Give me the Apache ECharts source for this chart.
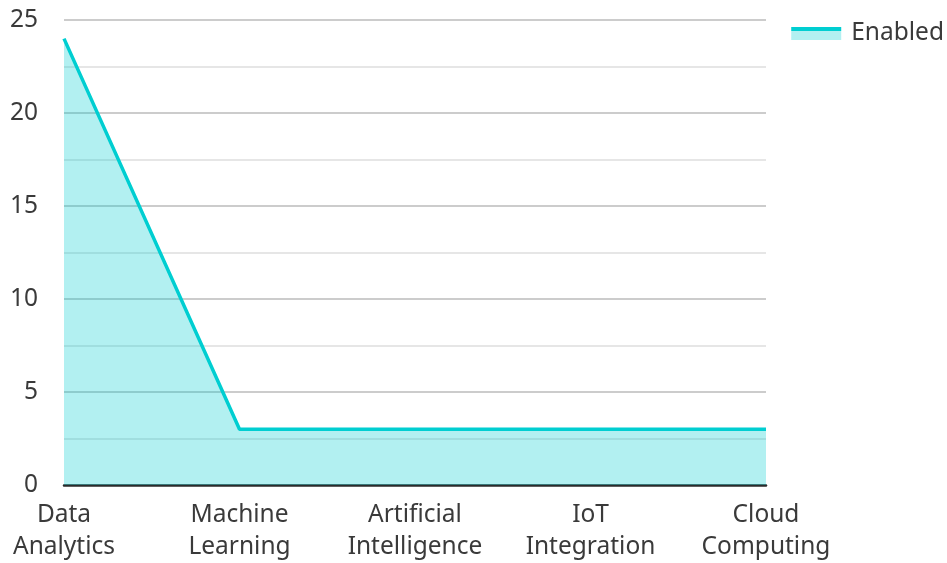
<!DOCTYPE html>
<html>
<head>
<meta charset="utf-8">
<style>
  html, body { margin: 0; padding: 0; background: #fff; }
  #chart { width: 947px; height: 563px; }
</style>
<script src="https://cdn.jsdelivr.net/npm/echarts@6/dist/echarts.min.js"></script>
</head>
<body>
<div id="chart"></div>
<script>
// Categories along the x axis and the "Enabled" counts for each
const categories = ['Data\nAnalytics', 'Machine\nLearning', 'Artificial\nIntelligence', 'IoT\nIntegration', 'Cloud\nComputing'];
const enabledValues = [24, 3, 3, 3, 3];
const seriesName = 'Enabled';

const lineColor = '#00CED1';
const areaColor = 'rgba(0, 206, 209, 0.3)';
const textColor = '#3a3a3a';
const fontFamily = '"Noto Sans", "Open Sans", sans-serif';
const fontSize = 24.5;

const chart = echarts.init(document.getElementById('chart'), null, { renderer: 'canvas' });

chart.setOption({
  animation: false,
  textStyle: { fontFamily: fontFamily },
  grid: { left: 64, right: 181, top: 20, bottom: 76, containLabel: false },
  legend: {
    right: 3,
    top: 21,
    padding: 0,
    icon: 'rect',
    itemWidth: 50,
    itemHeight: 13,
    textStyle: { fontSize: fontSize, color: textColor, fontFamily: fontFamily, padding: [0, 0, 22, 5] },
    data: [{
      name: seriesName,
      itemStyle: {
        color: new echarts.graphic.LinearGradient(0, 0, 0, 1, [
          { offset: 0, color: lineColor },
          { offset: 0.27, color: lineColor },
          { offset: 0.27, color: '#b2f0f1' },
          { offset: 1, color: '#b2f0f1' }
        ])
      }
    }]
  },
  xAxis: {
    type: 'category',
    data: categories,
    boundaryGap: false,
    axisLine: { show: true, lineStyle: { color: '#2b2b2b', width: 2.5 } },
    axisTick: { show: false },
    axisLabel: {
      fontSize: fontSize,
      lineHeight: 32,
      color: textColor,
      margin: 14,
      interval: 0,
      fontFamily: fontFamily
    },
    splitLine: { show: false }
  },
  yAxis: {
    type: 'value',
    min: 0,
    max: 25,
    interval: 5,
    axisLine: { show: false },
    axisTick: { show: false },
    axisLabel: { fontSize: fontSize, color: textColor, margin: 26, fontFamily: fontFamily },
    splitLine: { show: true, lineStyle: { color: '#cccccc', width: 2 } },
    minorTick: { show: false, splitNumber: 2 },
    minorSplitLine: { show: true, lineStyle: { color: '#e6e6e6', width: 2 } }
  },
  series: [{
    name: seriesName,
    type: 'line',
    data: enabledValues,
    showSymbol: false,
    symbol: 'none',
    lineStyle: { color: lineColor, width: 3.5 },
    itemStyle: { color: lineColor },
    areaStyle: { color: areaColor, opacity: 1 },
    z: 1
  }]
});
</script>
</body>
</html>
